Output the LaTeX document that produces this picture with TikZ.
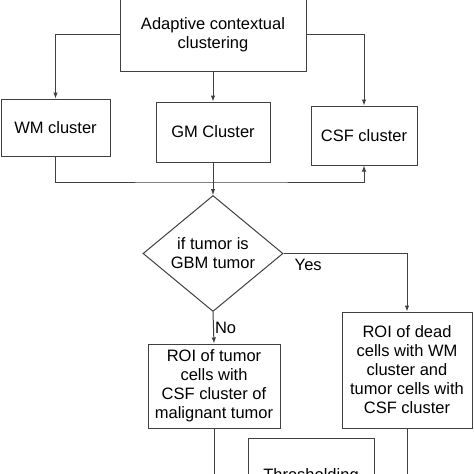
\documentclass[tikz,border=0pt]{standalone}
\usepackage{fontspec}
\setmainfont{Liberation Sans}
\usepackage{tikz}
\usetikzlibrary{arrows.meta,shapes.geometric,positioning,calc}

\begin{document}
\begin{tikzpicture}[x=1pt,y=-1pt,
		box/.style={draw=black!75, line width=1pt, fill=white, align=center, inner sep=2pt},
		dec/.style={draw=black!75, line width=1pt, diamond, aspect=1.2, inner sep=0pt, align=center, minimum width=140pt, minimum height=116pt},
		arr/.style={draw=black!75, line width=1pt, -{Latex[length=6pt,width=4.5pt]}},
		conn/.style={draw=black!75, line width=1pt},
		lbl/.style={inner sep=1pt}]
		\useasboundingbox (0,0) rectangle (474,474);
		\clip (0,0) rectangle (474,474);
		\fontsize{16.5}{19}\selectfont

		\node[box, minimum width=186pt, minimum height=73pt] (acc) at (213,34.5) {Adaptive contextual\\clustering};

		\node[box, minimum width=109pt, minimum height=57pt] (wm) at (55.5,127.5) {WM cluster};
		\node[box, minimum width=114pt, minimum height=60pt] (gm) at (213,132) {GM Cluster};
		\node[box, minimum width=106pt, minimum height=59pt] (csf) at (364,135.5) {CSF cluster};

		\draw[arr] (acc.west) -| (wm.north);
		\draw[arr] (acc.east) -| (csf.north);
		\draw[arr] (acc.south) -- (gm.north);

		\coordinate (bus) at (213,182);
		\draw[arr] (wm.south) |- (bus) -| (csf.south);

		\node[dec] (tumor) at (213,253.5) {if tumor is\\GBM tumor};
		\draw[arr] (gm.south) -- (tumor.north);

		\node[box, minimum width=132pt, minimum height=84pt] (roit) at (214,386) {ROI of tumor\\cells with\\CSF cluster of\\malignant tumor};
		\node[box, minimum width=130pt, minimum height=116pt] (roid) at (407,370) {ROI of dead\\cells with WM\\cluster and\\tumor cells with\\CSF cluster};

		\draw[arr] (tumor.east) -| node[lbl, pos=0.1, below=4pt] {Yes} (roid.north);
		\draw[arr] (tumor.south) -- node[lbl, right] {No} (roit.north);

		\node[box, minimum width=126pt, minimum height=76pt] (thr) at (311,476) {Thresholding};

		\coordinate (endl) at (214,490);
		\coordinate (endr) at (407,490);
		\draw[conn] (roit.south) -- (endl);
		\draw[conn] (roid.south) -- (endr);
	\end{tikzpicture}
\end{document}
